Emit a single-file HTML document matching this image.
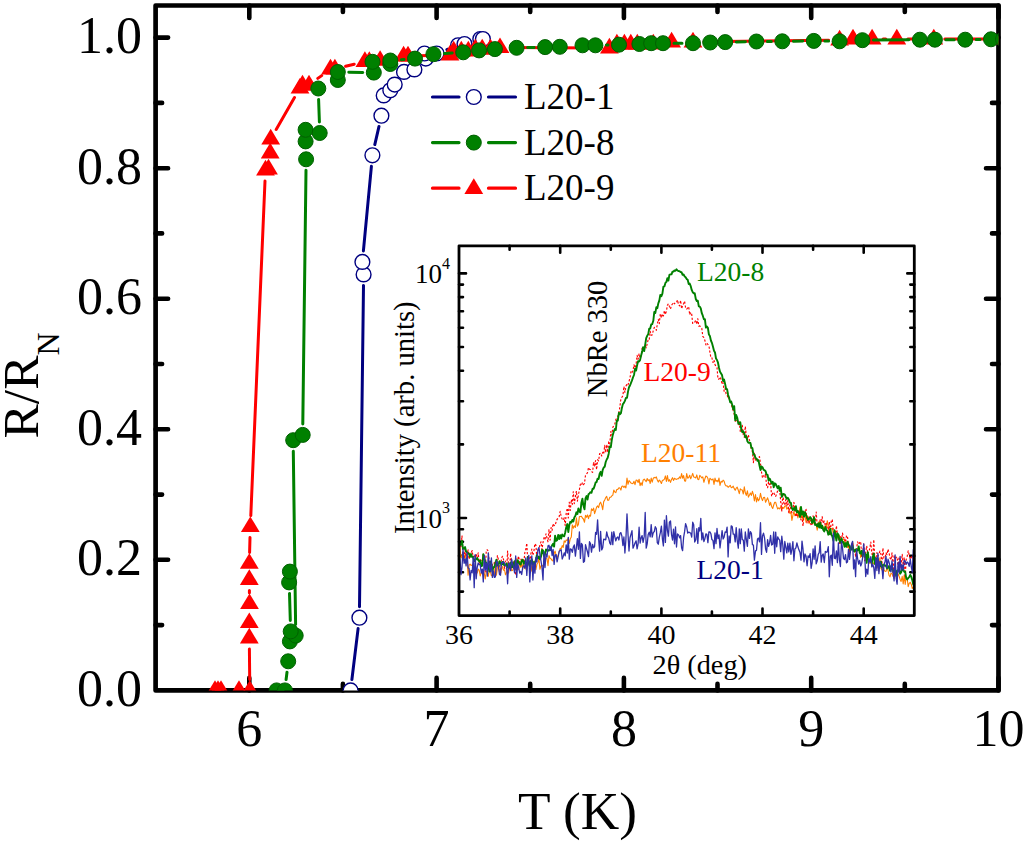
<!DOCTYPE html><html><head><meta charset="utf-8"><style>html,body{margin:0;padding:0;background:#fff;}svg{display:block;}text{font-family:"Liberation Serif",serif;}</style></head><body>
<svg width="1025" height="843" viewBox="0 0 1025 843">
<rect width="1025" height="843" fill="#fff"/>
<path d="M249.3 690.4V677.9M249.3 5.5V18.0M436.6 690.4V677.9M436.6 5.5V18.0M623.9 690.4V677.9M623.9 5.5V18.0M811.2 690.4V677.9M811.2 5.5V18.0M998.5 690.4V677.9M998.5 5.5V18.0M342.9 690.4V683.9M342.9 5.5V12.0M530.2 690.4V683.9M530.2 5.5V12.0M717.5 690.4V683.9M717.5 5.5V12.0M904.8 690.4V683.9M904.8 5.5V12.0M155.6 625.1H162.1M998.5 625.1H992.0M155.6 559.8H168.1M998.5 559.8H986.0M155.6 494.6H162.1M998.5 494.6H992.0M155.6 429.3H168.1M998.5 429.3H986.0M155.6 364.0H162.1M998.5 364.0H992.0M155.6 298.7H168.1M998.5 298.7H986.0M155.6 233.4H162.1M998.5 233.4H992.0M155.6 168.2H168.1M998.5 168.2H986.0M155.6 102.9H162.1M998.5 102.9H992.0M155.6 37.6H168.1M998.5 37.6H986.0" stroke="#000" stroke-width="4.6" stroke-linecap="round" fill="none"/>
<rect x="155.6" y="5.5" width="842.9" height="684.9" fill="none" stroke="#000" stroke-width="4.7" stroke-linejoin="round"/>
<text x="249.3" y="746" font-size="52" text-anchor="middle">6</text>
<text x="436.6" y="746" font-size="52" text-anchor="middle">7</text>
<text x="623.9" y="746" font-size="52" text-anchor="middle">8</text>
<text x="811.2" y="746" font-size="52" text-anchor="middle">9</text>
<text x="998.5" y="746" font-size="52" text-anchor="middle">10</text>
<text x="142" y="705.7" font-size="52" text-anchor="end">0.0</text>
<text x="142" y="575.1" font-size="52" text-anchor="end">0.2</text>
<text x="142" y="444.6" font-size="52" text-anchor="end">0.4</text>
<text x="142" y="314.0" font-size="52" text-anchor="end">0.6</text>
<text x="142" y="183.5" font-size="52" text-anchor="end">0.8</text>
<text x="142" y="52.9" font-size="52" text-anchor="end">1.0</text>
<text x="577.5" y="828.7" font-size="53.3" text-anchor="middle">T (K)</text>
<text transform="translate(38.4,438.5) rotate(-90)" font-size="51.5">R/R<tspan font-size="32" dy="21">N</tspan></text>
<defs><clipPath id="pc"><rect x="155.6" y="5.5" width="842.9" height="684.9"/></clipPath></defs>
<g clip-path="url(#pc)">
<path d="M351.9 679.5L358.1 628.6M359.5 606.7L363.5 285.4M363.4 250.9L371.4 166.3M374.8 144.6L379.0 126.4M446.9 49.6L447.8 49.2" stroke="#000080" stroke-width="3" stroke-linecap="round" fill="none"/>
<g fill="#fff" stroke="#000080" stroke-width="1.4"><circle cx="350.6" cy="690.4" r="7.4"/><circle cx="359.4" cy="617.7" r="7.4"/><circle cx="363.6" cy="274.4" r="7.4"/><circle cx="362.4" cy="261.9" r="7.4"/><circle cx="372.4" cy="155.3" r="7.4"/><circle cx="381.4" cy="115.7" r="7.4"/><circle cx="383.7" cy="95.4" r="7.4"/><circle cx="390.3" cy="90.3" r="7.4"/><circle cx="394.7" cy="84.6" r="7.4"/><circle cx="404" cy="71.9" r="7.4"/><circle cx="414.4" cy="69.4" r="7.4"/><circle cx="425.8" cy="58.6" r="7.4"/><circle cx="424.5" cy="53.5" r="7.4"/><circle cx="436.6" cy="53.5" r="7.4"/><circle cx="458.1" cy="45.3" r="7.4"/><circle cx="464.5" cy="44" r="7.4"/><circle cx="480.3" cy="39" r="7.4"/><circle cx="482.9" cy="39" r="7.4"/></g>
<path d="M249.7 679.4L249.4 649.0M249.4 592.7L249.4 590.5M249.6 552.4L250.0 537.6M250.8 515.6L265.0 181.0M276.2 129.5L294.5 97.5M317.8 78.4L321.7 75.6M345.6 66.3L354.2 64.2M390.9 58.4L392.8 58.0M419.0 55.7L439.0 55.3M511.0 47.6L598.4 48.0M704.0 41.8L828.6 40.2M883.1 39.0L885.8 39.0M907.8 39.0L922.8 39.0M944.8 39.0L992.0 39.0" stroke="#FF0000" stroke-width="3" stroke-linecap="round" fill="none"/>
<g fill="#FF0000"><path d="M215 680.1999999999999L205.6 695.8L224.4 695.8Z"/><path d="M218 680.1999999999999L208.6 695.8L227.4 695.8Z"/><path d="M221 680.1999999999999L211.6 695.8L230.4 695.8Z"/><path d="M239 680.1999999999999L229.6 695.8L248.4 695.8Z"/><path d="M249.8 680.1999999999999L240.4 695.8L259.2 695.8Z"/><path d="M249.3 627.8L239.9 643.4L258.7 643.4Z"/><path d="M249.3 612.5L239.9 628.1L258.7 628.1Z"/><path d="M249.5 593.5L240.1 609.1L258.9 609.1Z"/><path d="M249.3 569.3L239.9 584.9L258.7 584.9Z"/><path d="M249.3 553.1999999999999L239.9 568.8L258.7 568.8Z"/><path d="M250.3 516.4L240.9 532.0L259.7 532.0Z"/><path d="M265.5 159.8L256.1 175.4L274.9 175.4Z"/><path d="M268.5 158.8L259.1 174.4L277.9 174.4Z"/><path d="M270.2 142.8L260.8 158.4L279.59999999999997 158.4Z"/><path d="M270.7 128.8L261.3 144.4L280.09999999999997 144.4Z"/><path d="M300 77.8L290.6 93.4L309.4 93.4Z"/><path d="M302.5 74.8L293.1 90.4L311.9 90.4Z"/><path d="M309 74.8L299.6 90.4L318.4 90.4Z"/><path d="M330.5 58.8L321.1 74.4L339.9 74.4Z"/><path d="M334.9 58.8L325.5 74.4L344.29999999999995 74.4Z"/><path d="M364.9 51.3L355.5 66.9L374.29999999999995 66.9Z"/><path d="M369.3 51.3L359.90000000000003 66.9L378.7 66.9Z"/><path d="M380.1 50.2L370.70000000000005 65.8L389.5 65.8Z"/><path d="M403.6 45.8L394.20000000000005 61.4L413.0 61.4Z"/><path d="M408 45.8L398.6 61.4L417.4 61.4Z"/><path d="M450 44.8L440.6 60.4L459.4 60.4Z"/><path d="M453.7 40.8L444.3 56.4L463.09999999999997 56.4Z"/><path d="M461.3 40.8L451.90000000000003 56.4L470.7 56.4Z"/><path d="M468.3 40.8L458.90000000000003 56.4L477.7 56.4Z"/><path d="M475.3 38.8L465.90000000000003 54.4L484.7 54.4Z"/><path d="M482.2 38.8L472.8 54.4L491.59999999999997 54.4Z"/><path d="M490.5 38.8L481.1 54.4L499.9 54.4Z"/><path d="M500 37.400000000000006L490.6 53.0L509.4 53.0Z"/><path d="M609.4 37.8L600.0 53.4L618.8 53.4Z"/><path d="M616.9 33.8L607.5 49.4L626.3 49.4Z"/><path d="M624.4 33.8L615.0 49.4L633.8 49.4Z"/><path d="M630.8 33.8L621.4 49.4L640.1999999999999 49.4Z"/><path d="M637.3 33.8L627.9 49.4L646.6999999999999 49.4Z"/><path d="M653.3 33.8L643.9 49.4L662.6999999999999 49.4Z"/><path d="M671.6 31.8L662.2 47.4L681.0 47.4Z"/><path d="M693 31.8L683.6 47.4L702.4 47.4Z"/><path d="M839.6 29.8L830.2 45.4L849.0 45.4Z"/><path d="M853 28.8L843.6 44.4L862.4 44.4Z"/><path d="M872.1 28.8L862.7 44.4L881.5 44.4Z"/><path d="M896.8 28.8L887.4 44.4L906.1999999999999 44.4Z"/><path d="M933.8 28.8L924.4 44.4L943.1999999999999 44.4Z"/><path d="M1003 28.8L993.6 44.4L1012.4 44.4Z"/></g>
<path d="M290.3 620.4L289.5 593.4" stroke="#008000" stroke-width="3" stroke-linecap="round" fill="none"/>
<path d="M286.1 679.5L287.0 672.2M295.6 624.6L293.3 451.2M302.8 423.9L306.0 170.3M319.4 122.0L318.6 99.5M348.8 72.2L362.8 72.4M401.3 59.7L404.0 59.4M444.4 53.5L452.2 53.0M527.6 47.5L534.1 47.4M606.4 45.0L608.0 45.0M674.0 43.2L682.0 43.2M736.2 41.9L745.4 41.7M767.4 41.4L771.3 41.4M793.3 41.2L802.8 41.0M824.8 41.1L828.6 41.1M873.4 40.1L908.9 39.8M945.9 39.7L954.2 39.7M976.2 39.5L980.0 39.5" stroke="#008000" stroke-width="3" stroke-linecap="round" fill="none"/>
<g fill="#008000" stroke="#006000" stroke-width="1"><circle cx="276.6" cy="690.4" r="7.5"/><circle cx="284.9" cy="690.4" r="7.5"/><circle cx="288.2" cy="661.3" r="7.5"/><circle cx="289.9" cy="641.4" r="7.5"/><circle cx="295.7" cy="635.6" r="7.5"/><circle cx="293.2" cy="440.2" r="7.5"/><circle cx="302.7" cy="434.9" r="7.5"/><circle cx="306.1" cy="159.3" r="7.5"/><circle cx="305.6" cy="141.4" r="7.5"/><circle cx="305.6" cy="129.8" r="7.5"/><circle cx="319.7" cy="133" r="7.5"/><circle cx="318.3" cy="88.5" r="7.5"/><circle cx="337.8" cy="80" r="7.5"/><circle cx="337.8" cy="72" r="7.5"/><circle cx="373.8" cy="72.6" r="7.5"/><circle cx="372.5" cy="61.8" r="7.5"/><circle cx="390.3" cy="64" r="7.5"/><circle cx="390.3" cy="60.5" r="7.5"/><circle cx="415" cy="58.6" r="7.5"/><circle cx="433.4" cy="54.2" r="7.5"/><circle cx="463.2" cy="52.3" r="7.5"/><circle cx="479.1" cy="50.4" r="7.5"/><circle cx="494.9" cy="49.1" r="7.5"/><circle cx="516.6" cy="47.8" r="7.5"/><circle cx="545.1" cy="47.1" r="7.5"/><circle cx="559.8" cy="46.8" r="7.5"/><circle cx="582.5" cy="45.3" r="7.5"/><circle cx="595.4" cy="45.3" r="7.5"/><circle cx="619" cy="44.7" r="7.5"/><circle cx="639.4" cy="44" r="7.5"/><circle cx="651.2" cy="43.2" r="7.5"/><circle cx="663" cy="43.2" r="7.5"/><circle cx="693" cy="43.2" r="7.5"/><circle cx="710.2" cy="42.5" r="7.5"/><circle cx="725.2" cy="42.1" r="7.5"/><circle cx="756.4" cy="41.5" r="7.5"/><circle cx="782.3" cy="41.3" r="7.5"/><circle cx="813.8" cy="40.9" r="7.5"/><circle cx="839.6" cy="41.3" r="7.5"/><circle cx="862.4" cy="40.2" r="7.5"/><circle cx="919.9" cy="39.7" r="7.5"/><circle cx="934.9" cy="39.7" r="7.5"/><circle cx="965.2" cy="39.7" r="7.5"/><circle cx="991" cy="39.3" r="7.5"/><circle cx="1003" cy="39.3" r="7.5"/><circle cx="290.7" cy="631.4" r="7.5"/><circle cx="289.1" cy="582.4" r="7.5"/><circle cx="289.9" cy="571.6" r="7.5"/></g>
</g>
<path d="M432.5 97.0H459M488.5 97.0H515.5" stroke="#000080" stroke-width="3.2" stroke-linecap="round"/>
<circle cx="473.8" cy="97.0" r="7.4" fill="#fff" stroke="#000080" stroke-width="1.4"/>
<text x="524" y="109.2" font-size="37">L20-1</text>
<path d="M432.5 142.6H459M488.5 142.6H515.5" stroke="#008000" stroke-width="3.2" stroke-linecap="round"/>
<circle cx="473.8" cy="142.6" r="7.5" fill="#008000" stroke="#006000" stroke-width="1"/>
<text x="524" y="154.8" font-size="37">L20-8</text>
<path d="M432.5 188.2H459M488.5 188.2H515.5" stroke="#FF0000" stroke-width="3.2" stroke-linecap="round"/>
<path d="M473.8 178.2L464.4 193.89999999999998L483.2 193.89999999999998Z" fill="#FF0000"/>
<text x="524" y="200.4" font-size="37">L20-9</text>
<rect x="459" y="245.8" width="455.3" height="369.8" fill="#fff"/>
<path d="M509.6 615.6V611.6M509.6 245.8V249.8M560.2 615.6V608.6M560.2 245.8V252.8M610.8 615.6V611.6M610.8 245.8V249.8M661.4 615.6V608.6M661.4 245.8V252.8M711.9 615.6V611.6M711.9 245.8V249.8M762.5 615.6V608.6M762.5 245.8V252.8M813.1 615.6V611.6M813.1 245.8V249.8M863.7 615.6V608.6M863.7 245.8V252.8M459.0 591.6H463.0M914.3 591.6H910.3M459.0 572.3H463.0M914.3 572.3H910.3M459.0 555.9H463.0M914.3 555.9H910.3M459.0 541.7H463.0M914.3 541.7H910.3M459.0 529.2H463.0M914.3 529.2H910.3M459.0 518.0H466.0M914.3 518.0H907.3M459.0 444.4H463.0M914.3 444.4H910.3M459.0 401.3H463.0M914.3 401.3H910.3M459.0 370.7H463.0M914.3 370.7H910.3M459.0 347.0H463.0M914.3 347.0H910.3M459.0 327.7H463.0M914.3 327.7H910.3M459.0 311.3H463.0M914.3 311.3H910.3M459.0 297.1H463.0M914.3 297.1H910.3M459.0 284.6H463.0M914.3 284.6H910.3M459.0 273.4H466.0M914.3 273.4H907.3" stroke="#000" stroke-width="2.6" stroke-linecap="round" fill="none"/>
<defs><clipPath id="ic"><rect x="459" y="245.8" width="455.3" height="369.8"/></clipPath></defs>
<g clip-path="url(#ic)" fill="none" stroke-linejoin="round">
<path d="M459.0 562.0 460.0 547.1 461.0 558.0 462.0 555.6 463.0 557.0 464.1 558.8 465.1 553.6 466.1 560.7 467.1 559.5 468.1 575.1 469.1 565.2 470.1 564.2 471.1 565.4 472.2 564.9 473.2 564.2 474.2 567.2 475.2 570.7 476.2 568.4 477.2 573.0 478.2 569.1 479.2 570.2 480.2 576.0 481.3 572.7 482.3 569.2 483.3 570.6 484.3 573.5 485.3 578.9 486.3 571.2 487.3 571.5 488.3 576.3 489.4 569.5 490.4 571.6 491.4 575.8 492.4 574.5 493.4 572.5 494.4 574.4 495.4 561.5 496.4 575.3 497.4 567.9 498.5 565.1 499.5 572.0 500.5 573.3 501.5 568.9 502.5 566.5 503.5 570.2 504.5 569.7 505.5 574.8 506.6 572.2 507.6 570.0 508.6 573.1 509.6 568.2 510.6 565.4 511.6 570.6 512.6 570.4 513.6 567.4 514.6 565.2 515.7 568.7 516.7 558.8 517.7 570.0 518.7 569.2 519.7 561.4 520.7 567.3 521.7 563.5 522.7 569.5 523.8 559.4 524.8 563.3 525.8 568.9 526.8 570.3 527.8 558.4 528.8 564.1 529.8 566.9 530.8 563.5 531.8 571.1 532.9 561.1 533.9 566.4 534.9 561.2 535.9 569.6 536.9 564.3 537.9 562.8 538.9 557.7 539.9 569.3 541.0 565.7 542.0 565.4 543.0 566.5 544.0 563.4 545.0 559.6 546.0 558.8 547.0 558.5 548.0 565.7 549.0 555.6 550.1 558.2 551.1 558.9 552.1 560.4 553.1 560.9 554.1 553.8 555.1 551.0 556.1 555.4 557.1 558.0 558.2 554.9 559.2 551.6 560.2 548.3 561.2 548.8 562.2 545.6 563.2 547.4 564.2 540.8 565.2 542.2 566.2 539.9 567.3 540.5 568.3 538.0 569.3 543.5 570.3 538.7 571.3 537.0 572.3 524.8 573.3 528.2 574.3 525.8 575.4 527.5 576.4 517.7 577.4 526.1 578.4 524.4 579.4 516.5 580.4 516.5 581.4 516.2 582.4 518.0 583.4 519.0 584.5 522.2 585.5 515.3 586.5 517.3 587.5 514.9 588.5 518.7 589.5 515.2 590.5 516.2 591.5 508.8 592.6 510.5 593.6 508.1 594.6 513.6 595.6 510.5 596.6 507.1 597.6 505.9 598.6 507.6 599.6 503.6 600.6 502.2 601.7 505.2 602.7 509.6 603.7 501.6 604.7 500.0 605.7 497.6 606.7 496.4 607.7 500.3 608.7 500.3 609.8 497.3 610.8 497.3 611.8 495.9 612.8 495.1 613.8 490.1 614.8 492.0 615.8 492.6 616.8 489.5 617.8 489.4 618.9 487.7 619.9 488.1 620.9 490.1 621.9 486.2 622.9 486.0 623.9 487.5 624.9 486.2 625.9 487.9 627.0 478.0 628.0 484.3 629.0 480.6 630.0 481.7 631.0 483.1 632.0 483.6 633.0 483.5 634.0 481.3 635.0 484.6 636.1 480.1 637.1 480.3 638.1 482.5 639.1 479.2 640.1 485.6 641.1 482.8 642.1 485.4 643.1 480.1 644.2 479.2 645.2 480.4 646.2 481.7 647.2 478.5 648.2 480.7 649.2 479.7 650.2 483.5 651.2 478.1 652.2 482.2 653.3 478.2 654.3 477.4 655.3 478.0 656.3 476.9 657.3 480.0 658.3 482.1 659.3 480.1 660.3 481.2 661.4 483.5 662.4 480.3 663.4 480.2 664.4 479.1 665.4 475.9 666.4 481.5 667.4 475.6 668.4 481.2 669.4 479.7 670.5 482.4 671.5 479.5 672.5 477.7 673.5 480.4 674.5 478.2 675.5 479.0 676.5 479.4 677.5 478.8 678.6 478.6 679.6 476.9 680.6 478.3 681.6 473.6 682.6 478.2 683.6 475.6 684.6 480.9 685.6 481.1 686.7 473.5 687.7 478.2 688.7 477.5 689.7 475.2 690.7 478.8 691.7 476.4 692.7 473.4 693.7 476.9 694.7 477.3 695.8 477.9 696.8 474.9 697.8 479.3 698.8 479.6 699.8 475.3 700.8 476.5 701.8 477.9 702.8 476.9 703.9 482.3 704.9 478.8 705.9 476.0 706.9 476.6 707.9 478.4 708.9 484.0 709.9 478.3 710.9 479.1 711.9 480.0 713.0 478.8 714.0 484.4 715.0 478.1 716.0 481.4 717.0 480.4 718.0 481.9 719.0 478.0 720.0 485.4 721.1 481.3 722.1 482.1 723.1 480.2 724.1 481.1 725.1 484.6 726.1 486.0 727.1 485.8 728.1 487.3 729.1 486.5 730.2 485.3 731.2 487.6 732.2 487.4 733.2 486.2 734.2 488.6 735.2 490.3 736.2 488.2 737.2 487.2 738.3 490.3 739.3 493.7 740.3 488.9 741.3 489.7 742.3 490.1 743.3 494.0 744.3 486.8 745.3 492.8 746.3 495.4 747.4 490.8 748.4 497.1 749.4 495.2 750.4 493.0 751.4 495.4 752.4 491.4 753.4 494.4 754.4 501.0 755.5 494.5 756.5 502.0 757.5 497.6 758.5 500.8 759.5 498.9 760.5 493.4 761.5 498.2 762.5 500.6 763.5 497.5 764.6 497.4 765.6 502.3 766.6 500.1 767.6 497.8 768.6 500.9 769.6 505.4 770.6 502.3 771.6 506.5 772.7 508.5 773.7 505.0 774.7 502.3 775.7 502.3 776.7 506.1 777.7 509.0 778.7 507.8 779.7 508.9 780.7 506.7 781.8 509.2 782.8 507.5 783.8 508.3 784.8 506.1 785.8 505.7 786.8 509.1 787.8 507.8 788.8 508.6 789.9 513.4 790.9 511.7 791.9 520.4 792.9 515.4 793.9 511.5 794.9 515.8 795.9 515.0 796.9 512.5 797.9 517.9 799.0 513.0 800.0 507.1 801.0 518.2 802.0 514.7 803.0 521.0 804.0 515.4 805.0 514.3 806.0 522.4 807.1 515.5 808.1 519.6 809.1 523.6 810.1 520.3 811.1 520.2 812.1 521.2 813.1 523.8 814.1 519.6 815.1 524.2 816.2 524.6 817.2 530.1 818.2 522.9 819.2 521.7 820.2 527.0 821.2 524.2 822.2 526.7 823.2 526.7 824.3 530.2 825.3 525.4 826.3 527.5 827.3 520.7 828.3 526.2 829.3 534.1 830.3 528.2 831.3 528.9 832.3 528.2 833.4 534.4 834.4 534.0 835.4 530.7 836.4 537.1 837.4 536.7 838.4 539.0 839.4 535.6 840.4 543.7 841.5 540.4 842.5 539.6 843.5 539.2 844.5 540.8 845.5 545.1 846.5 542.4 847.5 547.5 848.5 546.7 849.5 550.0 850.6 549.1 851.6 547.0 852.6 541.7 853.6 549.6 854.6 551.8 855.6 550.4 856.6 552.3 857.6 549.5 858.7 550.4 859.7 549.2 860.7 557.4 861.7 554.1 862.7 552.5 863.7 550.3 864.7 554.9 865.7 560.8 866.7 558.2 867.8 554.7 868.8 562.7 869.8 563.3 870.8 562.4 871.8 562.4 872.8 564.3 873.8 562.8 874.8 564.2 875.9 559.5 876.9 568.1 877.9 564.4 878.9 571.4 879.9 557.9 880.9 568.3 881.9 570.0 882.9 566.0 883.9 569.5 885.0 571.3 886.0 571.4 887.0 568.1 888.0 570.2 889.0 575.2 890.0 576.8 891.0 573.2 892.0 573.9 893.1 575.0 894.1 578.8 895.1 571.8 896.1 571.5 897.1 577.6 898.1 573.7 899.1 576.2 900.1 579.4 901.1 581.5 902.2 576.3 903.2 584.0 904.2 574.9 905.2 584.4 906.2 576.9 907.2 578.6 908.2 586.7 909.2 583.2 910.3 582.4 911.3 584.4 912.3 588.5 913.3 587.0 914.3 587.5" stroke="#FF8000" stroke-width="1.1"/>
<path d="M459.0 548.6 460.0 545.2 461.0 546.6 462.0 535.8 463.0 560.7 464.1 557.6 465.1 549.7 466.1 556.5 467.1 554.2 468.1 549.9 469.1 559.3 470.1 552.3 471.1 552.7 472.2 550.6 473.2 558.3 474.2 555.6 475.2 559.9 476.2 553.7 477.2 558.4 478.2 552.8 479.2 563.3 480.2 559.6 481.3 560.7 482.3 561.4 483.3 553.2 484.3 564.0 485.3 571.8 486.3 550.2 487.3 549.8 488.3 551.4 489.4 565.5 490.4 561.5 491.4 567.3 492.4 565.4 493.4 562.6 494.4 563.3 495.4 560.8 496.4 567.2 497.4 555.5 498.5 559.9 499.5 564.1 500.5 573.5 501.5 558.2 502.5 556.3 503.5 559.3 504.5 568.3 505.5 561.0 506.6 570.2 507.6 551.0 508.6 568.7 509.6 568.0 510.6 553.3 511.6 562.5 512.6 568.7 513.6 561.9 514.6 567.1 515.7 575.2 516.7 562.6 517.7 559.1 518.7 556.1 519.7 564.4 520.7 559.2 521.7 559.2 522.7 559.4 523.8 563.4 524.8 552.8 525.8 549.3 526.8 543.2 527.8 563.7 528.8 556.3 529.8 563.8 530.8 554.1 531.8 549.1 532.9 555.2 533.9 551.2 534.9 543.7 535.9 545.0 536.9 559.2 537.9 550.3 538.9 549.8 539.9 545.1 541.0 541.8 542.0 549.6 543.0 542.7 544.0 537.7 545.0 539.6 546.0 533.8 547.0 538.2 548.0 541.8 549.0 529.6 550.1 540.2 551.1 527.5 552.1 530.3 553.1 523.6 554.1 525.5 555.1 525.6 556.1 521.9 557.1 519.3 558.2 518.3 559.2 516.4 560.2 511.4 561.2 516.8 562.2 519.0 563.2 520.3 564.2 517.8 565.2 525.4 566.2 513.4 567.3 508.1 568.3 517.9 569.3 502.2 570.3 510.4 571.3 499.6 572.3 504.4 573.3 491.7 574.3 503.6 575.4 496.7 576.4 491.0 577.4 501.2 578.4 495.0 579.4 489.6 580.4 484.0 581.4 485.2 582.4 482.7 583.4 484.7 584.5 483.3 585.5 475.2 586.5 474.1 587.5 472.6 588.5 467.5 589.5 469.2 590.5 469.7 591.5 471.4 592.6 472.4 593.6 462.0 594.6 466.1 595.6 460.6 596.6 469.6 597.6 459.7 598.6 460.8 599.6 453.8 600.6 453.1 601.7 456.0 602.7 452.4 603.7 454.2 604.7 445.4 605.7 452.7 606.7 444.6 607.7 452.4 608.7 441.9 609.8 444.0 610.8 431.6 611.8 435.2 612.8 427.3 613.8 425.6 614.8 424.2 615.8 419.6 616.8 418.3 617.8 416.4 618.9 412.6 619.9 406.6 620.9 398.9 621.9 397.3 622.9 395.8 623.9 386.4 624.9 392.4 625.9 386.4 627.0 383.8 628.0 384.9 629.0 381.5 630.0 377.7 631.0 371.6 632.0 373.0 633.0 370.6 634.0 364.7 635.0 367.9 636.1 364.2 637.1 355.3 638.1 359.3 639.1 353.6 640.1 358.3 641.1 355.5 642.1 348.4 643.1 347.1 644.2 347.9 645.2 345.1 646.2 347.8 647.2 343.9 648.2 339.3 649.2 339.7 650.2 331.2 651.2 335.3 652.2 334.9 653.3 330.5 654.3 327.4 655.3 328.7 656.3 330.3 657.3 324.3 658.3 319.3 659.3 323.6 660.3 313.9 661.4 317.9 662.4 313.8 663.4 316.0 664.4 310.6 665.4 314.6 666.4 311.1 667.4 305.3 668.4 303.7 669.4 306.4 670.5 309.0 671.5 305.2 672.5 304.0 673.5 302.3 674.5 303.8 675.5 302.6 676.5 302.4 677.5 299.9 678.6 305.1 679.6 305.9 680.6 300.3 681.6 308.8 682.6 305.7 683.6 303.5 684.6 301.1 685.6 308.0 686.7 309.1 687.7 307.9 688.7 306.6 689.7 314.9 690.7 312.4 691.7 314.1 692.7 323.5 693.7 323.3 694.7 322.0 695.8 320.1 696.8 324.3 697.8 318.7 698.8 326.1 699.8 325.9 700.8 326.8 701.8 328.4 702.8 336.3 703.9 337.7 704.9 340.5 705.9 344.9 706.9 343.0 707.9 344.5 708.9 345.6 709.9 352.1 710.9 357.7 711.9 357.7 713.0 362.5 714.0 360.0 715.0 364.6 716.0 366.4 717.0 367.6 718.0 379.3 719.0 379.1 720.0 376.9 721.1 379.5 722.1 384.3 723.1 382.7 724.1 391.2 725.1 388.4 726.1 393.9 727.1 394.5 728.1 398.8 729.1 398.5 730.2 400.0 731.2 404.3 732.2 407.3 733.2 410.7 734.2 414.0 735.2 421.1 736.2 420.7 737.2 419.1 738.3 424.6 739.3 421.7 740.3 431.4 741.3 430.2 742.3 425.3 743.3 435.0 744.3 437.3 745.3 426.3 746.3 435.5 747.4 438.5 748.4 434.9 749.4 440.2 750.4 442.6 751.4 450.2 752.4 451.4 753.4 462.6 754.4 452.7 755.5 460.8 756.5 458.6 757.5 461.4 758.5 457.7 759.5 456.7 760.5 463.5 761.5 472.1 762.5 477.7 763.5 475.8 764.6 477.5 765.6 473.9 766.6 486.3 767.6 487.7 768.6 481.6 769.6 485.9 770.6 483.6 771.6 496.4 772.7 493.1 773.7 492.0 774.7 495.3 775.7 496.4 776.7 493.5 777.7 490.6 778.7 491.4 779.7 490.2 780.7 501.6 781.8 510.9 782.8 493.3 783.8 503.0 784.8 505.2 785.8 499.4 786.8 506.0 787.8 500.6 788.8 512.6 789.9 504.8 790.9 509.0 791.9 512.8 792.9 508.2 793.9 502.4 794.9 509.5 795.9 516.8 796.9 513.5 797.9 515.9 799.0 510.0 800.0 516.6 801.0 519.9 802.0 516.6 803.0 526.1 804.0 515.6 805.0 511.6 806.0 508.8 807.1 522.9 808.1 516.9 809.1 522.4 810.1 519.7 811.1 525.8 812.1 524.1 813.1 515.9 814.1 519.3 815.1 523.6 816.2 512.0 817.2 525.9 818.2 525.2 819.2 524.8 820.2 519.6 821.2 523.1 822.2 516.7 823.2 523.6 824.3 521.1 825.3 525.5 826.3 523.4 827.3 528.3 828.3 533.9 829.3 521.7 830.3 534.4 831.3 519.9 832.3 519.8 833.4 531.5 834.4 533.1 835.4 536.2 836.4 525.8 837.4 535.0 838.4 536.6 839.4 543.4 840.4 536.6 841.5 540.7 842.5 533.1 843.5 538.0 844.5 537.2 845.5 544.2 846.5 535.5 847.5 536.9 848.5 545.4 849.5 552.7 850.6 545.5 851.6 545.7 852.6 542.7 853.6 551.3 854.6 548.8 855.6 556.1 856.6 548.7 857.6 541.9 858.7 544.5 859.7 542.6 860.7 541.5 861.7 556.3 862.7 554.1 863.7 542.9 864.7 560.6 865.7 552.3 866.7 545.9 867.8 554.0 868.8 551.9 869.8 548.3 870.8 542.0 871.8 553.8 872.8 555.8 873.8 539.6 874.8 558.1 875.9 558.7 876.9 552.6 877.9 556.2 878.9 554.1 879.9 551.1 880.9 554.0 881.9 564.2 882.9 548.0 883.9 558.1 885.0 557.9 886.0 552.9 887.0 554.7 888.0 549.2 889.0 552.6 890.0 557.9 891.0 559.9 892.0 552.9 893.1 576.3 894.1 555.2 895.1 559.5 896.1 557.6 897.1 556.8 898.1 567.1 899.1 556.8 900.1 567.8 901.1 567.0 902.2 554.3 903.2 566.9 904.2 557.2 905.2 577.7 906.2 559.4 907.2 556.4 908.2 550.9 909.2 554.8 910.3 559.4 911.3 557.2 912.3 556.1 913.3 559.5 914.3 562.6" stroke="#FF0000" stroke-width="1.15" stroke-dasharray="2.2 1.8"/>
<path d="M459.0 542.8 460.0 545.0 461.0 544.6 462.0 540.9 463.0 548.9 464.1 548.8 465.1 547.1 466.1 551.8 467.1 552.4 468.1 553.5 469.1 553.9 470.1 556.9 471.1 554.1 472.2 557.1 473.2 557.0 474.2 561.1 475.2 559.9 476.2 559.2 477.2 558.0 478.2 560.1 479.2 561.3 480.2 560.7 481.3 566.1 482.3 565.6 483.3 554.1 484.3 557.1 485.3 562.9 486.3 562.5 487.3 564.9 488.3 565.3 489.4 571.6 490.4 561.4 491.4 563.8 492.4 571.6 493.4 567.1 494.4 567.1 495.4 563.3 496.4 559.7 497.4 565.5 498.5 565.4 499.5 561.1 500.5 562.8 501.5 564.8 502.5 562.0 503.5 564.7 504.5 565.3 505.5 565.1 506.6 563.4 507.6 566.9 508.6 567.9 509.6 566.0 510.6 562.4 511.6 567.3 512.6 563.3 513.6 567.6 514.6 561.2 515.7 567.4 516.7 564.2 517.7 560.1 518.7 563.0 519.7 564.0 520.7 564.6 521.7 560.4 522.7 559.8 523.8 563.8 524.8 561.6 525.8 563.7 526.8 565.2 527.8 557.3 528.8 563.2 529.8 566.2 530.8 561.2 531.8 559.4 532.9 564.2 533.9 562.3 534.9 563.9 535.9 559.4 536.9 555.0 537.9 558.4 538.9 556.4 539.9 559.3 541.0 556.6 542.0 550.0 543.0 550.4 544.0 556.0 545.0 554.4 546.0 549.4 547.0 550.5 548.0 550.9 549.0 550.0 550.1 550.3 551.1 547.4 552.1 545.3 553.1 543.7 554.1 546.6 555.1 535.6 556.1 540.9 557.1 540.3 558.2 534.9 559.2 539.1 560.2 535.1 561.2 538.5 562.2 534.5 563.2 535.8 564.2 536.3 565.2 532.5 566.2 527.5 567.3 524.1 568.3 532.0 569.3 525.0 570.3 521.8 571.3 522.6 572.3 520.0 573.3 521.4 574.3 517.5 575.4 515.8 576.4 512.3 577.4 514.0 578.4 508.4 579.4 511.6 580.4 512.4 581.4 502.7 582.4 498.7 583.4 505.6 584.5 509.3 585.5 498.3 586.5 496.1 587.5 499.5 588.5 494.2 589.5 493.4 590.5 492.2 591.5 492.8 592.6 488.7 593.6 488.8 594.6 485.9 595.6 482.5 596.6 482.1 597.6 478.6 598.6 479.0 599.6 474.0 600.6 471.8 601.7 475.9 602.7 469.9 603.7 467.6 604.7 466.8 605.7 462.0 606.7 459.5 607.7 457.8 608.7 453.7 609.8 446.4 610.8 447.1 611.8 439.9 612.8 434.9 613.8 431.4 614.8 429.0 615.8 430.0 616.8 420.8 617.8 420.7 618.9 412.8 619.9 414.3 620.9 413.2 621.9 407.9 622.9 404.1 623.9 402.9 624.9 400.9 625.9 398.0 627.0 397.8 628.0 391.6 629.0 387.3 630.0 385.5 631.0 382.8 632.0 380.4 633.0 377.4 634.0 375.0 635.0 368.8 636.1 370.6 637.1 365.2 638.1 361.2 639.1 361.6 640.1 359.9 641.1 355.6 642.1 352.1 643.1 347.3 644.2 351.0 645.2 344.6 646.2 338.2 647.2 335.8 648.2 334.3 649.2 328.6 650.2 328.5 651.2 324.5 652.2 324.2 653.3 320.8 654.3 311.9 655.3 313.1 656.3 307.3 657.3 308.2 658.3 303.4 659.3 300.7 660.3 294.9 661.4 296.2 662.4 293.6 663.4 286.6 664.4 286.4 665.4 282.9 666.4 281.9 667.4 278.1 668.4 280.6 669.4 274.9 670.5 274.4 671.5 274.3 672.5 271.7 673.5 271.5 674.5 270.5 675.5 270.8 676.5 269.3 677.5 270.5 678.6 271.1 679.6 271.2 680.6 272.1 681.6 272.3 682.6 274.8 683.6 274.5 684.6 276.4 685.6 277.3 686.7 279.1 687.7 279.7 688.7 284.1 689.7 283.6 690.7 286.1 691.7 289.9 692.7 292.2 693.7 293.3 694.7 293.1 695.8 299.0 696.8 301.0 697.8 300.7 698.8 306.4 699.8 306.6 700.8 308.5 701.8 313.2 702.8 315.7 703.9 319.2 704.9 319.1 705.9 327.6 706.9 326.5 707.9 327.9 708.9 334.5 709.9 336.0 710.9 340.5 711.9 342.8 713.0 346.8 714.0 350.8 715.0 352.5 716.0 358.5 717.0 360.0 718.0 362.7 719.0 367.7 720.0 371.7 721.1 373.5 722.1 375.3 723.1 381.1 724.1 379.6 725.1 383.9 726.1 389.0 727.1 389.2 728.1 395.0 729.1 397.7 730.2 402.4 731.2 401.5 732.2 404.7 733.2 409.3 734.2 406.1 735.2 420.3 736.2 415.0 737.2 417.5 738.3 423.4 739.3 423.9 740.3 422.3 741.3 429.6 742.3 432.1 743.3 431.3 744.3 433.6 745.3 437.3 746.3 436.2 747.4 441.2 748.4 442.7 749.4 442.7 750.4 443.0 751.4 447.7 752.4 448.2 753.4 454.5 754.4 454.5 755.5 458.0 756.5 458.5 757.5 460.8 758.5 460.3 759.5 465.6 760.5 470.0 761.5 466.5 762.5 467.2 763.5 469.7 764.6 470.3 765.6 471.2 766.6 474.6 767.6 475.0 768.6 480.7 769.6 478.5 770.6 480.7 771.6 483.6 772.7 481.7 773.7 487.3 774.7 483.3 775.7 484.0 776.7 486.3 777.7 488.2 778.7 486.0 779.7 490.7 780.7 487.7 781.8 496.9 782.8 494.2 783.8 494.0 784.8 494.5 785.8 497.1 786.8 498.8 787.8 497.8 788.8 499.4 789.9 502.6 790.9 503.0 791.9 508.2 792.9 510.0 793.9 508.0 794.9 510.2 795.9 506.1 796.9 512.3 797.9 511.1 799.0 513.2 800.0 517.0 801.0 506.9 802.0 514.6 803.0 511.5 804.0 516.9 805.0 512.3 806.0 515.2 807.1 517.9 808.1 519.7 809.1 518.9 810.1 517.1 811.1 518.4 812.1 523.1 813.1 521.2 814.1 517.1 815.1 525.0 816.2 524.4 817.2 526.3 818.2 523.5 819.2 527.5 820.2 522.7 821.2 528.1 822.2 525.7 823.2 529.7 824.3 531.4 825.3 527.0 826.3 529.7 827.3 530.6 828.3 534.7 829.3 533.9 830.3 529.0 831.3 534.6 832.3 536.1 833.4 540.9 834.4 530.3 835.4 534.4 836.4 540.6 837.4 533.3 838.4 534.5 839.4 540.3 840.4 542.5 841.5 538.2 842.5 542.6 843.5 542.0 844.5 546.9 845.5 543.1 846.5 546.8 847.5 541.8 848.5 544.6 849.5 545.6 850.6 550.1 851.6 549.1 852.6 545.7 853.6 550.7 854.6 551.6 855.6 549.5 856.6 549.7 857.6 550.5 858.7 546.4 859.7 552.9 860.7 553.6 861.7 550.8 862.7 556.5 863.7 550.5 864.7 553.6 865.7 554.5 866.7 562.8 867.8 552.2 868.8 559.6 869.8 561.4 870.8 560.2 871.8 563.4 872.8 557.1 873.8 553.6 874.8 563.8 875.9 558.1 876.9 561.3 877.9 559.0 878.9 566.5 879.9 566.3 880.9 561.6 881.9 567.3 882.9 565.2 883.9 564.7 885.0 565.8 886.0 565.3 887.0 568.4 888.0 567.8 889.0 566.1 890.0 570.9 891.0 566.1 892.0 569.4 893.1 570.2 894.1 574.1 895.1 568.0 896.1 575.8 897.1 571.1 898.1 570.3 899.1 569.2 900.1 573.7 901.1 572.4 902.2 569.1 903.2 569.4 904.2 571.7 905.2 571.8 906.2 578.1 907.2 579.4 908.2 578.2 909.2 577.0 910.3 574.8 911.3 576.9 912.3 580.1 913.3 584.6 914.3 580.8" stroke="#008000" stroke-width="1.9"/>
<path d="M459.0 555.2 460.0 559.4 461.0 574.6 462.0 567.3 463.0 549.5 464.1 563.3 465.1 559.0 466.1 565.9 467.1 552.5 468.1 567.9 469.1 568.5 470.1 579.9 471.1 570.5 472.2 572.8 473.2 557.3 474.2 587.7 475.2 554.6 476.2 578.8 477.2 567.4 478.2 563.0 479.2 564.7 480.2 564.6 481.3 573.0 482.3 569.1 483.3 581.9 484.3 555.4 485.3 570.0 486.3 562.9 487.3 576.2 488.3 553.0 489.4 567.2 490.4 571.5 491.4 557.8 492.4 577.4 493.4 570.8 494.4 577.3 495.4 576.8 496.4 561.1 497.4 562.4 498.5 567.0 499.5 574.5 500.5 575.2 501.5 562.5 502.5 563.2 503.5 561.5 504.5 563.1 505.5 565.7 506.6 566.4 507.6 583.8 508.6 563.1 509.6 564.7 510.6 570.6 511.6 559.2 512.6 563.8 513.6 566.8 514.6 572.8 515.7 556.0 516.7 577.4 517.7 563.5 518.7 567.6 519.7 573.0 520.7 571.4 521.7 574.5 522.7 567.3 523.8 565.7 524.8 568.3 525.8 557.8 526.8 575.4 527.8 559.4 528.8 555.4 529.8 581.9 530.8 564.2 531.8 555.8 532.9 580.0 533.9 562.4 534.9 573.2 535.9 557.7 536.9 561.9 537.9 549.8 538.9 547.5 539.9 554.4 541.0 561.0 542.0 567.5 543.0 579.9 544.0 551.7 545.0 567.5 546.0 554.0 547.0 557.1 548.0 545.9 549.0 545.3 550.1 550.4 551.1 546.5 552.1 555.5 553.1 549.3 554.1 564.4 555.1 555.0 556.1 554.6 557.1 561.8 558.2 556.3 559.2 551.3 560.2 550.4 561.2 549.8 562.2 559.0 563.2 556.4 564.2 552.8 565.2 555.9 566.2 544.9 567.3 553.0 568.3 537.4 569.3 559.2 570.3 548.8 571.3 549.3 572.3 552.3 573.3 547.1 574.3 544.9 575.4 556.1 576.4 547.3 577.4 538.7 578.4 549.3 579.4 531.8 580.4 558.4 581.4 543.5 582.4 544.9 583.4 562.3 584.5 561.2 585.5 544.7 586.5 548.5 587.5 552.0 588.5 556.5 589.5 541.7 590.5 543.6 591.5 552.1 592.6 544.3 593.6 547.9 594.6 546.5 595.6 532.3 596.6 534.3 597.6 519.8 598.6 538.7 599.6 551.2 600.6 531.4 601.7 549.9 602.7 547.8 603.7 539.2 604.7 539.3 605.7 539.8 606.7 532.0 607.7 536.4 608.7 538.1 609.8 543.2 610.8 544.5 611.8 532.1 612.8 544.6 613.8 531.7 614.8 536.6 615.8 540.9 616.8 537.7 617.8 536.9 618.9 540.0 619.9 533.4 620.9 532.6 621.9 536.2 622.9 545.5 623.9 537.0 624.9 553.0 625.9 539.5 627.0 513.9 628.0 534.2 629.0 551.0 630.0 537.7 631.0 534.2 632.0 530.7 633.0 548.2 634.0 545.7 635.0 543.0 636.1 540.9 637.1 548.9 638.1 543.8 639.1 527.2 640.1 543.0 641.1 538.0 642.1 535.6 643.1 542.4 644.2 536.4 645.2 512.5 646.2 548.2 647.2 543.9 648.2 534.4 649.2 532.2 650.2 536.8 651.2 524.6 652.2 537.1 653.3 532.6 654.3 531.5 655.3 526.7 656.3 528.5 657.3 542.6 658.3 544.2 659.3 537.4 660.3 532.9 661.4 526.1 662.4 538.8 663.4 545.9 664.4 520.1 665.4 542.4 666.4 515.7 667.4 530.3 668.4 536.1 669.4 522.1 670.5 520.9 671.5 534.5 672.5 540.0 673.5 529.2 674.5 543.8 675.5 526.8 676.5 547.0 677.5 534.0 678.6 534.9 679.6 537.9 680.6 535.6 681.6 547.8 682.6 550.7 683.6 537.4 684.6 531.7 685.6 523.6 686.7 527.0 687.7 533.1 688.7 532.2 689.7 532.7 690.7 533.0 691.7 537.0 692.7 522.2 693.7 524.8 694.7 542.0 695.8 539.7 696.8 528.7 697.8 543.4 698.8 527.6 699.8 531.0 700.8 518.4 701.8 539.8 702.8 532.9 703.9 541.6 704.9 538.7 705.9 533.8 706.9 534.3 707.9 542.6 708.9 531.8 709.9 531.9 710.9 533.7 711.9 539.6 713.0 540.6 714.0 548.7 715.0 532.8 716.0 543.7 717.0 528.5 718.0 538.6 719.0 534.9 720.0 547.9 721.1 539.0 722.1 530.7 723.1 539.0 724.1 537.2 725.1 532.0 726.1 532.3 727.1 527.2 728.1 556.9 729.1 536.0 730.2 542.8 731.2 525.8 732.2 526.5 733.2 534.1 734.2 534.2 735.2 541.9 736.2 527.6 737.2 540.1 738.3 548.1 739.3 528.8 740.3 543.7 741.3 528.9 742.3 539.6 743.3 540.0 744.3 551.2 745.3 532.0 746.3 539.1 747.4 546.3 748.4 528.8 749.4 538.4 750.4 531.7 751.4 533.3 752.4 544.6 753.4 545.0 754.4 560.2 755.5 550.8 756.5 550.3 757.5 538.9 758.5 538.1 759.5 541.8 760.5 522.7 761.5 554.4 762.5 536.0 763.5 533.2 764.6 538.2 765.6 549.1 766.6 552.3 767.6 539.6 768.6 546.4 769.6 542.7 770.6 535.4 771.6 545.0 772.7 544.2 773.7 531.9 774.7 553.3 775.7 532.1 776.7 546.8 777.7 536.8 778.7 539.0 779.7 540.1 780.7 551.7 781.8 536.2 782.8 545.0 783.8 559.2 784.8 541.5 785.8 547.1 786.8 552.9 787.8 543.2 788.8 551.9 789.9 543.1 790.9 554.3 791.9 549.4 792.9 541.7 793.9 560.8 794.9 549.0 795.9 547.8 796.9 542.9 797.9 546.8 799.0 550.1 800.0 552.5 801.0 560.2 802.0 541.1 803.0 549.2 804.0 561.8 805.0 554.0 806.0 556.0 807.1 565.8 808.1 556.0 809.1 557.3 810.1 553.6 811.1 568.3 812.1 562.8 813.1 548.9 814.1 559.3 815.1 545.9 816.2 563.9 817.2 560.8 818.2 554.3 819.2 552.6 820.2 541.6 821.2 562.2 822.2 555.4 823.2 554.0 824.3 562.5 825.3 551.5 826.3 552.3 827.3 551.6 828.3 546.6 829.3 576.8 830.3 556.2 831.3 555.1 832.3 565.3 833.4 533.1 834.4 558.2 835.4 558.7 836.4 551.0 837.4 562.6 838.4 542.9 839.4 559.3 840.4 566.5 841.5 541.7 842.5 548.0 843.5 558.4 844.5 559.6 845.5 554.7 846.5 562.8 847.5 562.0 848.5 549.3 849.5 559.4 850.6 550.1 851.6 543.9 852.6 541.3 853.6 568.9 854.6 559.8 855.6 576.7 856.6 549.5 857.6 558.5 858.7 564.2 859.7 560.5 860.7 565.9 861.7 563.2 862.7 557.3 863.7 543.8 864.7 555.0 865.7 576.5 866.7 569.1 867.8 574.1 868.8 558.6 869.8 561.9 870.8 556.6 871.8 566.9 872.8 564.4 873.8 567.7 874.8 578.4 875.9 557.7 876.9 570.5 877.9 553.5 878.9 573.7 879.9 561.5 880.9 564.6 881.9 566.4 882.9 578.6 883.9 565.3 885.0 561.7 886.0 556.3 887.0 568.2 888.0 559.2 889.0 562.2 890.0 566.1 891.0 571.8 892.0 560.8 893.1 572.0 894.1 580.9 895.1 554.9 896.1 577.8 897.1 584.2 898.1 562.3 899.1 572.1 900.1 556.3 901.1 570.1 902.2 564.8 903.2 570.0 904.2 560.3 905.2 561.1 906.2 564.2 907.2 562.1 908.2 563.0 909.2 566.4 910.3 559.2 911.3 567.0 912.3 572.1 913.3 549.7 914.3 569.9" stroke="#3030a8" stroke-width="1.3"/>
</g>
<rect x="459" y="245.8" width="455.3" height="369.8" fill="none" stroke="#000" stroke-width="2.8" stroke-linejoin="round"/>
<text x="459.0" y="644" font-size="28" text-anchor="middle">36</text>
<text x="560.2" y="644" font-size="28" text-anchor="middle">38</text>
<text x="661.4" y="644" font-size="28" text-anchor="middle">40</text>
<text x="762.5" y="644" font-size="28" text-anchor="middle">42</text>
<text x="863.7" y="644" font-size="28" text-anchor="middle">44</text>
<text x="442" y="283.2" font-size="27" text-anchor="end">10</text><text x="442" y="268.5" font-size="16">4</text>
<text x="442" y="527.8" font-size="27" text-anchor="end">10</text><text x="442" y="513" font-size="16">3</text>
<text x="652.5" y="674" font-size="28.3">2θ (deg)</text>
<text transform="translate(414.3,534.1) rotate(-90)" font-size="28.6">Intensity (arb. units)</text>
<text transform="translate(607,397.2) rotate(-90)" font-size="28.5">NbRe 330</text>
<text x="697" y="280.7" font-size="27.5" fill="#008000">L20-8</text>
<text x="643.5" y="381" font-size="27.5" fill="#FF0000">L20-9</text>
<text x="641" y="461.8" font-size="27.5" fill="#FF8000">L20-11</text>
<text x="696.5" y="578.7" font-size="27.5" fill="#000080">L20-1</text>
</svg></body></html>
